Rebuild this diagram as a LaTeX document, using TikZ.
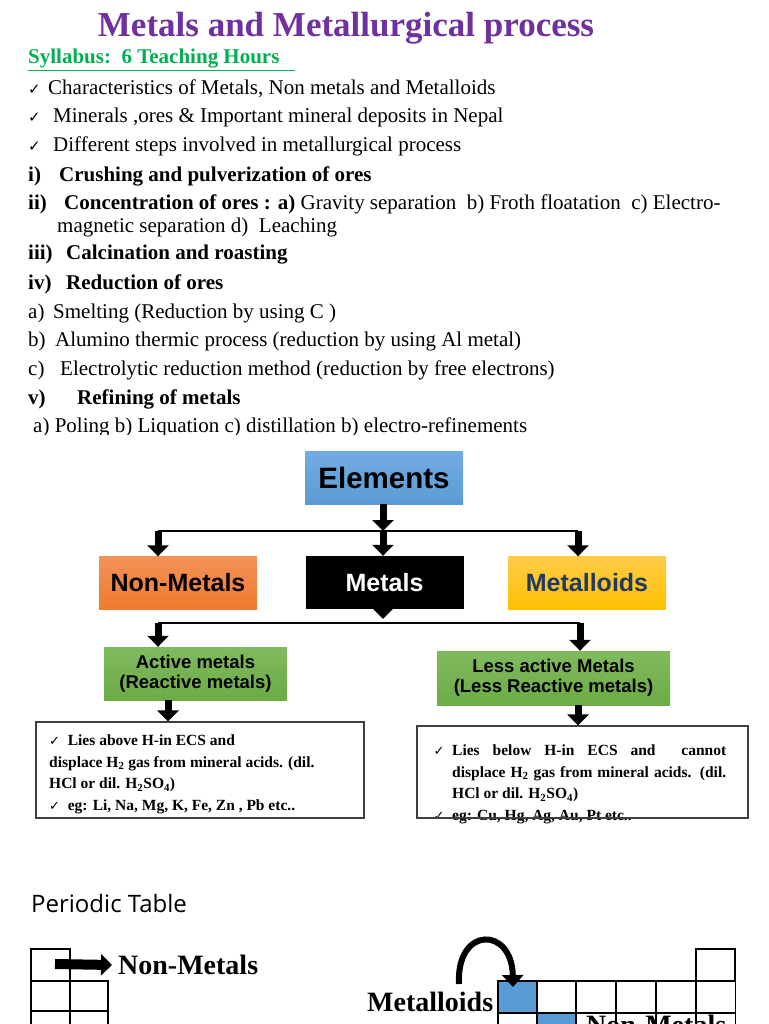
\documentclass[tikz,border=0pt]{standalone}
\usepackage{fontspec}
\setmainfont{Liberation Serif}
\setsansfont{Liberation Sans}
\newfontfamily\symfont{DejaVu Sans}
\newfontfamily\tablefont{Open Sans}
\usetikzlibrary{arrows.meta}

\definecolor{titlepurple}{RGB}{112,48,160}
\definecolor{sylgreen}{RGB}{0,176,80}
\definecolor{elemblue}{RGB}{91,155,213}
\definecolor{elemblueTop}{RGB}{115,172,226}
\definecolor{nmorange}{RGB}{240,122,45}
\definecolor{nmorangeTop}{RGB}{242,146,88}
\definecolor{mdyellow}{RGB}{255,192,0}
\definecolor{mdyellowTop}{RGB}{255,204,72}
\definecolor{mdnavy}{RGB}{31,56,100}
\definecolor{leafgreen}{RGB}{108,171,70}
\definecolor{leafgreenTop}{RGB}{128,186,94}
\definecolor{cellblue}{RGB}{91,155,213}

\newcommand{\tick}{{\symfont\fontsize{15}{15}\selectfont ✓}}
\newcommand{\smalltick}{{\symfont\fontsize{13}{13}\selectfont ✓}}

\begin{document}
\begin{tikzpicture}[x=1pt,y=-1pt,
    txt/.style={anchor=west,inner sep=0pt,font=\fontsize{21}{25}\selectfont},
    btxt/.style={txt,font=\bfseries\fontsize{21}{25}\selectfont},
    cls/.style={minimum width=158pt,minimum height=53pt,inner sep=0pt,
      font=\sffamily\bfseries\fontsize{25}{28}\selectfont},
    kind/.style={top color=leafgreenTop,bottom color=leafgreen,inner sep=0pt,
      align=center,font=\sffamily\bfseries\fontsize{18.5}{20}\selectfont},
    fat/.style={line width=7pt,-{Triangle[length=11pt,width=21pt]}},
    bar/.style={line width=2.5pt},
    note/.style={inner sep=0pt,font=\bfseries\fontsize{15.5}{21.5}\selectfont},
    cell/.style={line width=1.6pt},
    big/.style={font=\bfseries\fontsize{28}{30}\selectfont,inner sep=0pt}]

  \useasboundingbox[fill=white] (0,0) rectangle (768,1024);

  % syllabus text
  \node[anchor=center,inner sep=0pt,text=titlepurple,
    font=\bfseries\fontsize{35}{40}\selectfont] (title) at (346,28)
    {Metals and Metallurgical process};
  \node[btxt,text=sylgreen] (syl) at (28,60)
    {\underline{Syllabus:\ \ 6 Teaching Hours\ \ \ }};
  \node[txt] (c1) at (28,89) {\makebox[20pt][l]{\tick}Characteristics of Metals, Non metals and Metalloids};
  \node[txt] (c2) at (28,117) {\makebox[25pt][l]{\tick}Minerals ,ores \& Important mineral deposits in Nepal};
  \node[txt] (c3) at (28,146) {\makebox[25pt][l]{\tick}Different steps involved in metallurgical process};

  \node[btxt] (s1) at (28,176) {\makebox[31pt][l]{i)}Crushing and pulverization of ores};
  \node[txt] (s2) at (28,204) {\bfseries\makebox[36pt][l]{ii)}Concentration of ores : a)\mdseries{} Gravity separation\ \ b) Froth floatation\ \ c) Electro-};
  \node[txt] (s2b) at (57,227) {magnetic separation d)\ \ Leaching};
  \node[btxt] (s3) at (28,255) {\makebox[38pt][l]{iii)}Calcination and roasting};
  \node[btxt] (s4) at (28,284) {\makebox[38pt][l]{iv)}Reduction of ores};
  \node[txt] (r1) at (28,313) {\makebox[25pt][l]{a)}Smelting (Reduction by using C )};
  \node[txt] (r2) at (28,341) {\makebox[27pt][l]{b)}Alumino thermic process (reduction by using Al metal)};
  \node[txt] (r3) at (28,370) {\makebox[32pt][l]{c)}Electrolytic reduction method (reduction by free electrons)};
  \node[btxt] (s5) at (28,399) {\makebox[49pt][l]{v)}Refining of metals};
  \begin{scope}
    \clip (0,0) rectangle (768,434);
    \node[txt] (s5b) at (33,427) {a) Poling b) Liquation c) distillation b) electro-refinements};
  \end{scope}

  % classification chart
  \node[cls,top color=elemblueTop,bottom color=elemblue,font=\sffamily\bfseries\fontsize{29.5}{30}\selectfont]
    (elements) at (384,477.5) {Elements};
  \node[cls,top color=nmorangeTop,bottom color=nmorange] (nonmetals) at (178,583) {Non-Metals};
  \node[cls,fill=black,text=white] (metals) at (384.5,582.5) {Metals};
  \node[cls,top color=mdyellowTop,bottom color=mdyellow,text=mdnavy] (metalloids) at (587,583) {Metalloids};

  \coordinate (split) at (383,531);
  \coordinate (splitL) at (158,531);
  \coordinate (splitR) at (578,531);
  \draw[bar] (splitL) -- (splitR);
  \draw[fat] (split |- elements.south) -- (split);
  \draw[fat] (split) -- (split |- metals.north);
  \draw[fat] (splitL) -- (splitL |- nonmetals.north);
  \draw[fat] (splitR) -- (splitR |- metalloids.north);

  \node[kind,minimum width=183pt,minimum height=53pt] (active) at (195.5,673.5)
    {Active metals\\(Reactive metals)};
  \node[kind,minimum width=233pt,minimum height=54pt] (lessactive) at (553.5,678)
    {Less active Metals\\(Less Reactive metals)};

  \coordinate (fork) at (383,623);
  \coordinate (forkL) at (158,623);
  \coordinate (forkR) at (580,623);
  \draw[bar] (forkL) -- (forkR);
  \draw[fat] (fork |- metals.south) -- ([yshift=4pt]fork);
  \draw[fat] (forkL) -- (forkL |- active.north);
  \draw[fat] (forkR) -- (forkR |- lessactive.north);

  \node[note,anchor=north west,align=left] (activetxt) at (49,735)
    {\smalltick\ \ Lies above H-in ECS and\\
     displace H\textsubscript{2} gas from mineral acids. (dil.\\
     HCl or dil. H\textsubscript{2}SO\textsubscript{4})\\
     \smalltick\ \ eg: Li, Na, Mg, K, Fe, Zn , Pb etc..};
  \node[note,anchor=north west,text width=274pt,align=justify] (lesstxt) at (452,745)
    {\llap{\smalltick\ \ }Lies below H-in ECS and\ \ cannot\linebreak
     displace H\textsubscript{2} gas from mineral acids. (dil.\linebreak
     HCl or dil. H\textsubscript{2}SO\textsubscript{4})\\
     \llap{\smalltick\ \ }eg: Cu, Hg, Ag, Au, Pt etc..};
  \node[draw=black!75,line width=1.2pt,minimum width=328pt,minimum height=96pt,inner sep=0pt]
    (activebox) at (200,770) {};
  \node[draw=black!75,line width=1.2pt,minimum width=331pt,minimum height=92pt,inner sep=0pt]
    (lessbox) at (582.5,772) {};
  \coordinate (dropL) at ([xshift=-27.5pt]active.south);
  \coordinate (dropR) at ([xshift=24.5pt]lessactive.south);
  \draw[fat] (dropL) -- (dropL |- activebox.north);
  \draw[fat] (dropR) -- (dropR |- lessbox.north);

  % periodic table
  \node[anchor=west,inner sep=0pt,font=\tablefont\fontsize{24}{26}\selectfont] (ptable) at (31,903) {Periodic Table};
  \draw[cell] (31,949) rectangle (70,981);
  \foreach \r in {981,1011}{
    \draw[cell] (31,\r) rectangle (70,\r+30);
    \draw[cell] (70,\r) rectangle (108,\r+30);
  }
  \coordinate (pointer) at (55,964);
  \node[big,anchor=west] (leftlabel) at (118,965) {Non-Metals};
  \draw[line width=10pt,-{Triangle[length=11pt,width=21pt]}] (pointer) -- ([xshift=-6pt]leftlabel.west);

  \fill[cellblue] (498,981) rectangle (537,1013);
  \fill[cellblue] (537,1013) rectangle (576,1045);
  \draw[cell] (696,949) rectangle (735,981);
  \foreach \c in {498,537,576,616,656,696}{
    \draw[cell] (\c,981) rectangle ++(39.5,32);
    \draw[cell] (\c,1013) rectangle ++(39.5,32);
  }
  \node[big,anchor=west] (midlabel) at (367,1002) {Metalloids};
  \node[big,anchor=base west] (rightlabel) at (586,1034) {Non-Metals};
  \coordinate (hop) at (459,984);
  \coordinate (landing) at (513,987);
  \draw[line width=6pt,-{Triangle[length=12pt,width=21pt]}]
    (hop) .. controls (456,926) and (512,926) .. (landing);
\end{tikzpicture}
\end{document}
